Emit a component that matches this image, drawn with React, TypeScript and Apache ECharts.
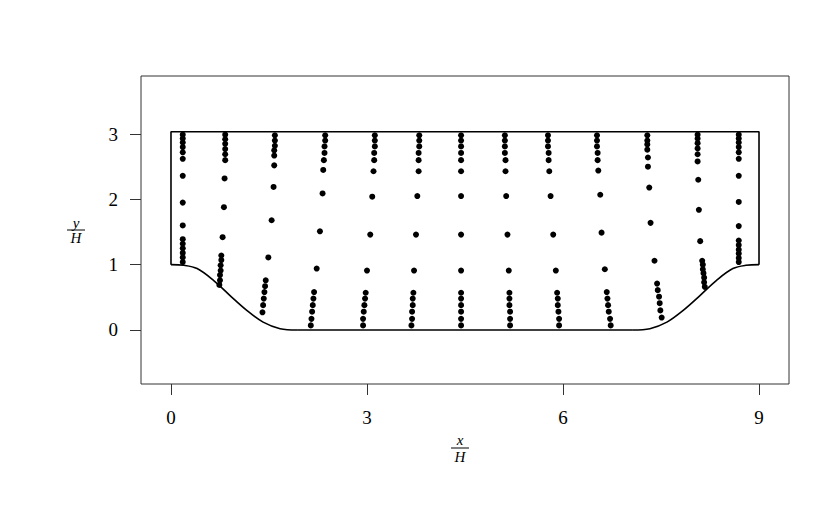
import React, { useEffect, useRef } from "react";
import * as echarts from "echarts";

// Sample points per profile: [x/H, y/H]
const profile01 = [[0.18,2.99],[0.18,2.93],[0.18,2.87],[0.18,2.80],[0.18,2.72],[0.18,2.62],[0.18,2.36],[0.18,1.95],[0.18,1.60],[0.18,1.39],[0.18,1.32],[0.18,1.25],[0.18,1.18],[0.18,1.11],[0.18,1.04]];
const profile02 = [[0.83,2.99],[0.83,2.92],[0.83,2.85],[0.83,2.77],[0.83,2.69],[0.83,2.60],[0.82,2.32],[0.81,1.88],[0.79,1.42],[0.77,1.14],[0.77,1.07],[0.76,0.99],[0.76,0.91],[0.75,0.84],[0.75,0.76],[0.74,0.69]];
const profile03 = [[1.59,2.98],[1.59,2.90],[1.59,2.82],[1.58,2.75],[1.58,2.67],[1.58,2.52],[1.57,2.19],[1.54,1.68],[1.49,1.11],[1.45,0.76],[1.44,0.67],[1.43,0.58],[1.42,0.48],[1.41,0.38],[1.40,0.27]];
const profile04 = [[2.36,2.98],[2.36,2.90],[2.35,2.81],[2.35,2.71],[2.34,2.60],[2.33,2.45],[2.32,2.09],[2.28,1.51],[2.23,0.94],[2.19,0.58],[2.18,0.48],[2.17,0.38],[2.16,0.28],[2.15,0.17],[2.14,0.07]];
const profile05 = [[3.12,2.98],[3.12,2.90],[3.12,2.81],[3.11,2.71],[3.11,2.60],[3.10,2.43],[3.08,2.04],[3.05,1.46],[3.00,0.91],[2.98,0.57],[2.97,0.48],[2.96,0.38],[2.95,0.28],[2.94,0.17],[2.94,0.07]];
const profile06 = [[3.80,2.98],[3.80,2.90],[3.80,2.81],[3.79,2.71],[3.79,2.60],[3.79,2.43],[3.77,2.05],[3.75,1.46],[3.72,0.91],[3.71,0.57],[3.70,0.48],[3.70,0.38],[3.69,0.28],[3.69,0.17],[3.68,0.07]];
const profile07 = [[4.44,2.98],[4.44,2.90],[4.44,2.81],[4.44,2.71],[4.44,2.60],[4.44,2.43],[4.44,2.05],[4.44,1.46],[4.44,0.91],[4.44,0.57],[4.44,0.48],[4.44,0.38],[4.44,0.28],[4.44,0.17],[4.44,0.07]];
const profile08 = [[5.11,2.98],[5.11,2.90],[5.11,2.81],[5.11,2.71],[5.12,2.60],[5.12,2.43],[5.13,2.05],[5.15,1.46],[5.17,0.91],[5.18,0.57],[5.18,0.48],[5.18,0.38],[5.19,0.28],[5.19,0.17],[5.19,0.07]];
const profile09 = [[5.77,2.98],[5.77,2.90],[5.77,2.81],[5.78,2.71],[5.78,2.60],[5.79,2.43],[5.81,2.05],[5.85,1.46],[5.89,0.91],[5.91,0.57],[5.92,0.48],[5.92,0.38],[5.93,0.28],[5.94,0.17],[5.94,0.07]];
const profile10 = [[6.52,2.98],[6.52,2.90],[6.52,2.81],[6.53,2.71],[6.53,2.60],[6.54,2.44],[6.57,2.07],[6.59,1.49],[6.64,0.93],[6.67,0.58],[6.68,0.48],[6.69,0.38],[6.70,0.28],[6.72,0.17],[6.73,0.07]];
const profile11 = [[7.29,2.98],[7.29,2.90],[7.29,2.84],[7.29,2.76],[7.30,2.64],[7.30,2.50],[7.32,2.18],[7.34,1.64],[7.40,1.06],[7.44,0.71],[7.45,0.61],[7.47,0.51],[7.48,0.41],[7.49,0.30],[7.51,0.19]];
const profile12 = [[8.06,2.99],[8.06,2.93],[8.06,2.86],[8.06,2.78],[8.06,2.69],[8.06,2.58],[8.07,2.30],[8.08,1.84],[8.10,1.36],[8.13,1.06],[8.14,1.00],[8.14,0.93],[8.15,0.87],[8.16,0.80],[8.16,0.73],[8.17,0.66]];
const profile13 = [[8.69,2.99],[8.69,2.93],[8.69,2.87],[8.69,2.80],[8.69,2.72],[8.69,2.62],[8.69,2.36],[8.69,1.96],[8.69,1.59],[8.69,1.37],[8.69,1.30],[8.69,1.23],[8.69,1.17],[8.69,1.10],[8.69,1.04]];

// Domain boundary
const leftHillX = [0, 0.2, 0.4, 0.65, 0.9, 1.16, 1.41, 1.67, 1.93];
const leftHillY = [1, 0.99, 0.94, 0.76, 0.53, 0.30, 0.12, 0.02, 0];
const rightHillX = [7.07, 7.33, 7.59, 7.84, 8.1, 8.35, 8.6, 8.8, 9];
const rightHillY = [0, 0.02, 0.12, 0.30, 0.53, 0.76, 0.94, 0.99, 1];
const floorX = [1.93, 7.07];
const floorY = [0, 0];
const wallsX = [0, 0, 9, 9];
const wallsY = [1, 3.035, 3.035, 1];

const xTicks = [0, 3, 6, 9];
const yTicks = [0, 1, 2, 3];

const zip = (xs: number[], ys: number[]) => xs.map((x, i) => [x, ys[i]]);

export default function App() {
  const ref = useRef<HTMLDivElement>(null);
  useEffect(() => {
    if (!ref.current) return;
    const chart = echarts.init(ref.current, null, { renderer: "svg" });
    const profiles = [profile01, profile02, profile03, profile04, profile05, profile06, profile07, profile08, profile09, profile10, profile11, profile12, profile13];
    const lineStyle = { color: "#000", width: 1.6 };
    const lineSeries = (data: number[][], smooth: boolean) => ({
      type: "line",
      data,
      smooth: smooth ? 0.35 : false,
      showSymbol: false,
      symbol: "none",
      lineStyle,
      silent: true,
      z: 2,
    });
    const font = "'Liberation Serif', 'DejaVu Serif', serif";
    const axisColor = "#333";
    chart.setOption({
      animation: false,
      grid: { left: 141, right: 42, top: 76, bottom: 129, show: true, borderColor: axisColor, borderWidth: 1, backgroundColor: "transparent" },
      xAxis: {
        type: "value",
        min: -0.459,
        max: 9.459,
        splitLine: { show: false },
        axisLine: { show: false, onZero: false },
        axisTick: { show: true, length: 11, lineStyle: { color: axisColor }, customValues: xTicks },
        axisLabel: { customValues: xTicks, margin: 24, fontSize: 19, fontFamily: font, color: "#000" },
      },
      yAxis: {
        type: "value",
        min: -0.827,
        max: 3.888,
        splitLine: { show: false },
        axisLine: { show: false, onZero: false },
        axisTick: { show: true, length: 11, lineStyle: { color: axisColor }, customValues: yTicks },
        axisLabel: { customValues: yTicks, margin: 23, fontSize: 19, fontFamily: font, color: "#000" },
      },
      series: [
        lineSeries(zip(leftHillX, leftHillY), true),
        lineSeries(zip(rightHillX, rightHillY), true),
        lineSeries(zip(floorX, floorY), false),
        lineSeries(zip(wallsX, wallsY), false),
        ...profiles.map((p) => ({
          type: "scatter",
          data: p,
          symbol: "circle",
          symbolSize: 6,
          itemStyle: { color: "#000", opacity: 1 },
          silent: true,
          z: 3,
        })),
      ],
      graphic: [
        { type: "text", x: 76, y: 223, style: { text: "y", font: `italic 15px ${font}`, fill: "#000", align: "center", verticalAlign: "middle" } },
        { type: "line", shape: { x1: 67, y1: 230, x2: 85, y2: 230 }, style: { stroke: "#000", lineWidth: 1 } },
        { type: "text", x: 76, y: 238, style: { text: "H", font: `italic 15px ${font}`, fill: "#000", align: "center", verticalAlign: "middle" } },
        { type: "text", x: 460, y: 440, style: { text: "x", font: `italic 15px ${font}`, fill: "#000", align: "center", verticalAlign: "middle" } },
        { type: "line", shape: { x1: 451, y1: 448, x2: 469, y2: 448 }, style: { stroke: "#000", lineWidth: 1 } },
        { type: "text", x: 460, y: 457, style: { text: "H", font: `italic 15px ${font}`, fill: "#000", align: "center", verticalAlign: "middle" } },
      ],
    });
    return () => chart.dispose();
  }, []);
  return <div ref={ref} style={{ width: 831, height: 513, position: "absolute", left: 0, top: 0 }} />;
}
